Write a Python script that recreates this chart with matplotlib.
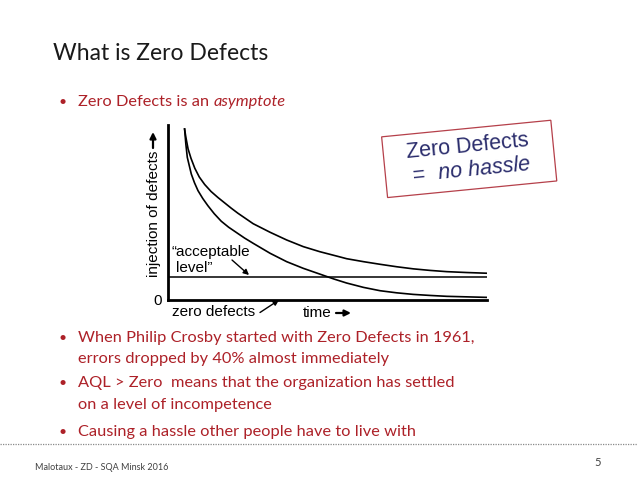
import matplotlib
matplotlib.use("Agg")
import matplotlib.pyplot as plt
from matplotlib.patches import Rectangle, FancyArrowPatch
from matplotlib.lines import Line2D
import matplotlib.transforms as mtransforms

# ---- data ----
time_upper = [5.2, 5.6, 6.3, 7.2, 8.4, 9.8, 11.5, 13.5, 15.7, 19.8, 21.9, 26.7, 32.0, 37.2,
              42.4, 47.6, 53.3, 56.0, 61.3, 66.5, 71.7, 76.9, 82.2, 87.4, 93.6, 99.9]
defects_upper = [97.7, 93.0, 86.3, 81.0, 75.3, 70.3, 66.0, 62.0, 58.5, 52.5, 49.6, 43.6, 38.7, 34.3,
                 30.5, 27.6, 24.9, 23.6, 21.9, 20.4, 19.0, 17.8, 16.9, 16.2, 15.7, 15.3]
time_lower = [5.2, 5.6, 6.05, 7.3, 8.3, 9.4, 10.9, 12.5, 14.5, 16.7, 19.0, 21.5, 24.0, 26.7,
              32.0, 37.2, 42.4, 47.6, 52.0, 56.0, 61.3, 66.5, 71.7, 76.9, 82.2, 87.4, 93.6, 99.9]
defects_lower = [97.7, 89.0, 81.5, 72.0, 67.0, 62.5, 58.0, 53.9, 49.3, 45.0, 41.6, 38.5, 35.4, 32.4,
                 26.7, 21.9, 18.1, 14.8, 12.0, 9.7, 7.2, 5.3, 4.1, 3.2, 2.6, 2.1, 1.8, 1.5]
acceptable_level = 13.3

title = "What is Zero Defects"
bullet_top = ["Zero Defects is an ", "asymptote"]
bullets_bottom = [
    ["When Philip Crosby started with Zero Defects in 1961,", "errors dropped by 40% almost immediately"],
    ["AQL > Zero  means that the organization has settled", "on a level of incompetence"],
    ["Causing a hassle other people have to live with"],
]
footer = "Malotaux - ZD - SQA Minsk 2016"
page = "5"

W, H = 638, 479
fig = plt.figure(figsize=(W / 100, H / 100), dpi=100)
fig.patch.set_facecolor("white")

def fx(x):
    return x / W

def fy(y):
    return 1 - y / H

RED = "#ad2128"
SLIDE_FONT = ["Lato", "DejaVu Sans"]
ARIAL = ["Liberation Sans", "DejaVu Sans"]
BFS = 11.8

# title
fig.text(fx(53), fy(53), title, fontsize=16.5, family=SLIDE_FONT, color="#1a1a1a", va="center", ha="left")

# top bullet
fig.text(fx(58), fy(102), "\u2022", fontsize=10, family=SLIDE_FONT, color=RED, va="center", ha="left")
t1 = fig.text(fx(78), fy(102), bullet_top[0], fontsize=BFS, family=SLIDE_FONT, color=RED, va="center", ha="left")
fig.canvas.draw()
bb = t1.get_window_extent()
fig.text(bb.x1 / W, fy(102), bullet_top[1], fontsize=BFS, family=SLIDE_FONT, color=RED,
         va="center", ha="left", style="italic")

# bottom bullets
line_y = [[338, 359], [383, 405], [432]]
for lines, ys in zip(bullets_bottom, line_y):
    fig.text(fx(58), fy(ys[0]), "\u2022", fontsize=10, family=SLIDE_FONT, color=RED, va="center", ha="left")
    for txt, y in zip(lines, ys):
        fig.text(fx(78), fy(y), txt, fontsize=BFS, family=SLIDE_FONT, color=RED, va="center", ha="left")

# dotted separator
fig.add_artist(Line2D([0, 1], [fy(444), fy(444)], transform=fig.transFigure,
                      color="#8a8a8a", lw=0.9, linestyle=(0, (1, 1))))

# footer
fig.text(fx(35), fy(467), footer, fontsize=6.5, family=SLIDE_FONT, color="#404040", va="center", ha="left")
fig.text(fx(598), fy(462), page, fontsize=8, family=SLIDE_FONT, color="#404040", va="center", ha="center")

# ---- chart ----
ax = fig.add_axes([fx(168), fy(300), (487 - 168) / W, (300 - 125) / H])
ax.plot(time_upper, defects_upper, color="black", lw=1.2, solid_joinstyle="round")
ax.plot(time_lower, defects_lower, color="black", lw=1.2, solid_joinstyle="round")
ax.plot([0, 100], [acceptable_level, acceptable_level], color="black", lw=1.1)
ax.set_xlim(0, 100)
ax.set_ylim(0, 100)
for s in ["top", "right"]:
    ax.spines[s].set_visible(False)
for s in ["left", "bottom"]:
    ax.spines[s].set_linewidth(2.0)
    ax.spines[s].set_color("black")
ax.set_xticks([])
ax.set_yticks([])
ax.patch.set_alpha(0)

fig.text(fx(154), fy(214), "injection of defects", rotation=90, fontsize=11, family=ARIAL,
         color="black", va="center", ha="center")
fig.text(fx(158), fy(301), "0", fontsize=11, family=ARIAL, color="black", va="center", ha="center")
fig.text(fx(172), fy(312), "zero defects", fontsize=11, family=ARIAL, color="black", va="center", ha="left")
fig.text(fx(303), fy(313), "time", fontsize=11, family=ARIAL, color="black", va="center", ha="left")
fig.text(fx(172), fy(252), "\u201cacceptable", fontsize=11, family=ARIAL, color="black", va="center", ha="left")
fig.text(fx(176), fy(268), "level\u201d", fontsize=11, family=ARIAL, color="black", va="center", ha="left")

arrows = [(232, 260, 249, 275, 1.0, 8), (260, 312.5, 279, 300, 1.0, 8),
          (336, 313, 351, 313, 1.6, 9), (153, 148, 153, 132, 1.6, 9)]
for (x0, y0, x1, y1, lw, ms) in arrows:
    fig.add_artist(FancyArrowPatch((fx(x0), fy(y0)), (fx(x1), fy(y1)), transform=fig.transFigure,
                                   arrowstyle="-|>", mutation_scale=ms, color="black", lw=lw,
                                   shrinkA=0, shrinkB=0))

# ---- rotated box ----
cx, cy = 469.2, 158.9
ang = 5.6
bw, bh = 170, 61
inch = fig.dpi_scale_trans
rect = Rectangle(((cx - bw / 2) / 100, (H - cy - bh / 2) / 100), bw / 100, bh / 100,
                 angle=ang, rotation_point="center", transform=inch,
                 facecolor="white", edgecolor="#b5404a", lw=0.9)
fig.add_artist(rect)

NAVY = "#2a2c6c"
rot = mtransforms.Affine2D().rotate_deg_around(cx / 100, (H - cy) / 100, ang) + inch
fig.text(cx / 100, (H - cy + 12.5) / 100, "Zero Defects", transform=rot, rotation=ang,
         rotation_mode="anchor", fontsize=15.5, family=ARIAL, color=NAVY, ha="center", va="center")
fig.text((cx - 52) / 100, (H - cy - 11.5) / 100, "=", transform=rot, rotation=ang,
         rotation_mode="anchor", fontsize=15.5, family=ARIAL, color=NAVY, ha="center", va="center")
fig.text((cx + 14) / 100, (H - cy - 11.5) / 100, "no hassle", transform=rot, rotation=ang,
         rotation_mode="anchor", fontsize=15.5, family=ARIAL, style="italic", color=NAVY,
         ha="center", va="center")

fig.savefig("out.png", dpi=100, facecolor="white")
